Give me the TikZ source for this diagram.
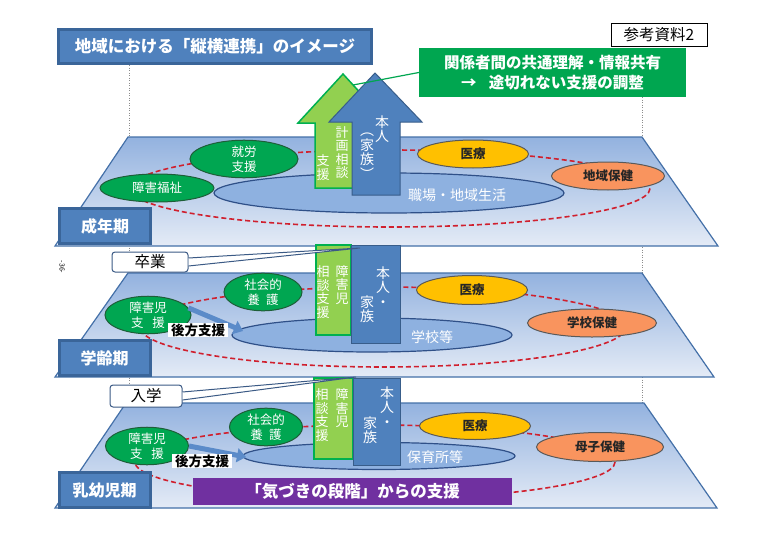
\documentclass[tikz,border=0pt]{standalone}
\usepackage{fontspec}
\setmainfont{Noto Sans CJK JP}
\usepackage{tikz}
\usetikzlibrary{positioning,shapes.geometric,arrows.meta}
\definecolor{boxblue}{HTML}{4F81BD}
\definecolor{boxedge}{HTML}{3A6599}
\definecolor{planetop}{HTML}{93B2DF}
\definecolor{planebot}{HTML}{E4EBF6}
\definecolor{planeedge}{HTML}{4470A8}
\definecolor{ringred}{HTML}{D0202E}
\definecolor{ellgreen}{HTML}{00A651}
\definecolor{greenedge}{HTML}{1E5E38}
\definecolor{ellyellow}{HTML}{FFC000}
\definecolor{ellorange}{HTML}{F9945E}
\definecolor{greyedge}{HTML}{595959}
\definecolor{bigfill}{HTML}{8EB1E0}
\definecolor{bigedge}{HTML}{2F5088}
\definecolor{arrowgreen}{HTML}{92D050}
\definecolor{arrowgedge}{HTML}{00B050}
\definecolor{arrowblue}{HTML}{4F81BD}
\definecolor{arrowbedge}{HTML}{385D8A}
\definecolor{backblue}{HTML}{5B8BC9}
\definecolor{bandpurple}{HTML}{7030A0}
\definecolor{noteg}{HTML}{00A650}
\definecolor{calledge}{HTML}{3B5A85}
\newcommand{\fsz}[2]{\fontsize{#1}{#2}\selectfont}

\begin{document}
\begin{tikzpicture}
[
x=1pt, y=-1pt,
plane/.style={draw=planeedge, line width=1.2pt, top color=planetop, bottom color=planebot},
ring/.style={draw=ringred, line width=1.6pt, dash pattern=on 5pt off 3pt},
guide/.style={draw=black!45, line width=0.5pt, dotted},
ell-a/.style={ellipse, draw=greenedge, line width=1pt, fill=ellgreen, inner sep=0pt, text=white, align=center, font=\fsz{12.5}{15}},
ell-b/.style={ellipse, draw=greyedge, line width=1pt, fill=ellyellow, inner sep=0pt, text=black!85, font=\bfseries\fsz{12.5}{14}},
ell-c/.style={ellipse, draw=greyedge, line width=1pt, fill=ellorange, inner sep=0pt, text=black!85, font=\bfseries\fsz{12.5}{14}},
ell-d/.style={ellipse, draw=bigedge, line width=1.2pt, fill=bigfill, inner sep=0pt},
arrow-g/.style={draw=arrowgedge, line width=1.5pt, fill=arrowgreen},
arrow-b/.style={draw=arrowbedge, line width=1pt, fill=arrowblue},
text-a/.style={inner sep=0pt, text=white, align=center},
text-g/.style={text-a, font=\fsz{13}{13.5}},
text-b/.style={text-a, font=\fsz{14}{14.5}},
period/.style={draw=boxedge, line width=3pt, fill=boxblue, text=white, inner sep=0pt, minimum width=91pt, minimum height=35pt, font=\bfseries\fsz{16}{18}},
callbox/.style={draw=calledge, line width=1pt, fill=white, rounded corners=3pt, inner sep=0pt, font=\fsz{15.5}{17}},
callpt/.style={draw=calledge, line width=1pt, fill=white},
backlabel/.style={fill=white, text=black, inner sep=0pt, minimum width=60pt, minimum height=14pt, font=\bfseries\fsz{13.5}{14}},
backarrow/.style={draw=backblue, line width=5pt, -{Triangle[length=9pt,width=14pt]}}
]
\useasboundingbox (0,0) rectangle (768,538);

\draw[guide] (129,65) -- (129,508);
\draw[guide] (642,97) -- (642,508);

\node (title) [draw=boxedge, line width=3pt, fill=boxblue, text=white, inner sep=0pt, minimum width=313pt, minimum height=34pt, font=\bfseries\fsz{16.5}{18}] at (215,46.5) {地域における「縦横連携」のイメージ};
\node (ref)   [draw=black, line width=0.8pt, fill=white, inner sep=0pt, minimum width=96pt, minimum height=23pt, font=\fsz{15.5}{17}] at (659,34.5) {参考資料2};
\node (note)  [fill=noteg, text=white, inner sep=0pt, minimum width=267pt, minimum height=49pt, align=center, font=\bfseries\fsz{15.5}{20}] at (552.5,72.5) {関係者間の共通理解・情報共有\\→\hspace{0.8em}途切れない支援の調整};
\node (page)  [rotate=-90, inner sep=0pt, font=\fsz{7}{8}] at (62,267) {-36-};

\path[plane] (128,137) -- (642,137) -- (718,246) -- (55,246) -- cycle;
\draw[ring] (390,188.5) ellipse [x radius=260, y radius=38.5];
\node (work-ell)  [ell-d, minimum width=350pt, minimum height=40pt] at (389,193) {};
\node (work-txt)  [text-a, font=\fsz{14}{16}]                      at (457,195) {職場・地域生活};
\node (job)       [ell-a, minimum width=108pt, minimum height=28pt] at (244,159) {就労\\支援};
\node (welfare)   [ell-a, minimum width=114pt, minimum height=28pt] at (157,188) {障害福祉};
\node (med-1)     [ell-b, minimum width=111pt, minimum height=28pt] at (473,154) {医療};
\node (health-1)  [ell-c, minimum width=113pt, minimum height=28pt] at (608,176) {地域保健};
\path[arrow-g] (343,74) -- (388,123) -- (371,123) -- (371,188) -- (315,188) -- (315,123) -- (298,123) -- cycle;
\path[arrow-b] (375,73) -- (422,122) -- (400,122) -- (400,195) -- (352,195) -- (352,122) -- (329,122) -- cycle;
\coordinate (note-tip) at (353,85);
\draw[draw=noteg, line width=1.2pt] (note.west) -- (note-tip);
\node (plan-r)    [text-g] at (342,152.5) {計\\画\\相\\談};
\node (plan-l)    [text-g] at (323,167.5) {支\\援};
\node (self-r-1)  [text-b] at (382,129)   {本\\人};
\node (self-l-1)  [text-b] at (367,156)   {︵\\家\\族\\︶};
\node (adult)     [period] at (105,226) {成年期};

\path[plane] (128,273) -- (642,273) -- (714,377) -- (55,377) -- cycle;
\draw[ring] (383,327) ellipse [x radius=243, y radius=40];
\node (school-ell) [ell-d, minimum width=280pt, minimum height=34pt] at (372,335) {};
\node (school-txt) [text-a, font=\fsz{14}{16}]                      at (432,337) {学校等};
\node (social-2)   [ell-a, minimum width=78pt, minimum height=35pt]  at (263,292) {社会的\\養\hspace{0.5em}護};
\node (child-2)    [ell-a, minimum width=86pt, minimum height=35pt]  at (148,315) {障害児\\支\hspace{0.7em}援};
\node (med-2)      [ell-b, minimum width=111pt, minimum height=29pt] at (472,290) {医療};
\node (health-2)   [ell-c, minimum width=129pt, minimum height=28pt] at (592,323) {学校保健};
\coordinate (back-tip-2) at (243,331);
\draw[backarrow] (child-2.10) -- (back-tip-2);
\node (back-2)     [backlabel] at (198,330) {後方支援};
\draw[arrow-g] (316,245) rectangle (351,335);
\draw[arrow-b] (351,245) rectangle (400,343);
\node (child-r-2)  [text-g] at (342,285)   {障\\害\\児};
\node (child-l-2)  [text-g] at (323,292)   {相\\談\\支\\援};
\node (self-r-2)   [text-b] at (383,287)   {本\\人\\・};
\node (self-l-2)   [text-b] at (367,309)   {家\\族};
\node (school-age) [period] at (104.5,358) {学齢期};
\coordinate (grad-tip) at (360,248);
\node (grad)       [callbox, minimum width=76pt, minimum height=20pt] at (150,262) {卒業};
\filldraw[callpt] ([yshift=4pt]grad.east) -- (grad-tip) -- ([yshift=-4pt]grad.east);

\path[plane] (126,403) -- (644,403) -- (717,508) -- (55,508) -- cycle;
\draw[ring] (375,462) ellipse [x radius=240, y radius=37];
\node (nursery-ell) [ell-d, minimum width=272pt, minimum height=27pt] at (379,456) {};
\node (nursery-txt) [text-a, font=\fsz{14}{16}]                      at (435,457) {保育所等};
\node (social-3)    [ell-a, minimum width=73pt, minimum height=30pt]  at (266,427) {社会的\\養\hspace{0.5em}護};
\node (child-3)     [ell-a, minimum width=83pt, minimum height=32pt]  at (147,446) {障害児\\支\hspace{0.7em}援};
\node (med-3)       [ell-b, minimum width=111pt, minimum height=27pt] at (475,426) {医療};
\node (health-3)    [ell-c, minimum width=127pt, minimum height=29pt] at (600,447) {母子保健};
\coordinate (back-tip-3) at (246,457);
\draw[backarrow] (child-3.east) -- (back-tip-3);
\node (back-3)      [backlabel] at (202,461) {後方支援};
\draw[arrow-g] (314,378) rectangle (353,459);
\draw[arrow-b] (353,378) rectangle (400,465);
\node (child-r-3)   [text-g] at (342,408.5) {障\\害\\児};
\node (child-l-3)   [text-g] at (322,415)   {相\\談\\支\\援};
\node (self-r-3)    [text-b] at (387,407)   {本\\人\\・};
\node (self-l-3)    [text-b] at (370,430)   {家\\族};
\node (infant)      [period] at (104.5,490) {乳幼児期};
\node (aware)       [fill=bandpurple, text=white, inner sep=0pt, minimum width=319pt, minimum height=27pt, font=\bfseries\fsz{16.5}{18}] at (352.5,491.5) {「気づきの段階」からの支援};
\coordinate (entry-tip) at (356,377);
\node (entry)       [callbox, minimum width=72pt, minimum height=22pt] at (146,396) {入学};
\filldraw[callpt] ([yshift=4pt]entry.east) -- (entry-tip) -- ([yshift=-4pt]entry.east);
\end{tikzpicture}
\end{document}
